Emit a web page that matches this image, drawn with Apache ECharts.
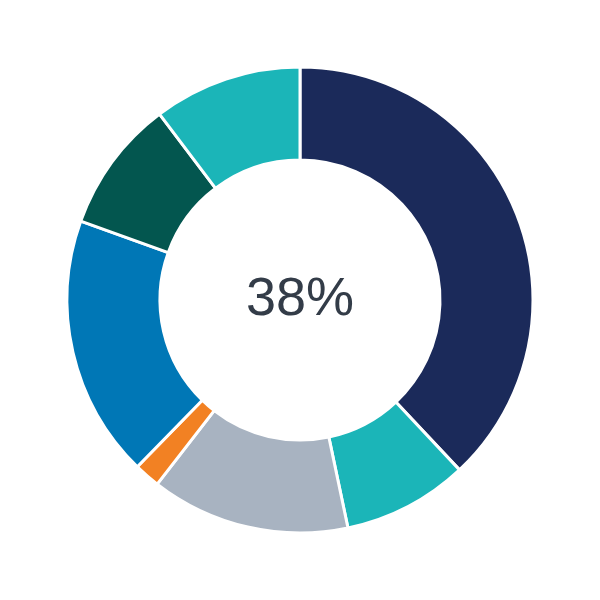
<!DOCTYPE html>
<html>
<head>
<meta charset="utf-8">
<script src="https://cdn.jsdelivr.net/npm/echarts@6/dist/echarts.min.js"></script>
<style>
  html, body { margin: 0; padding: 0; background: #fff; }
  #chart { width: 600px; height: 600px; }
</style>
</head>
<body>
<div id="chart"></div>
<script>
// slice values, clockwise from 12 o'clock
const sliceNames = ['A', 'B', 'C', 'D', 'E', 'F', 'G'];
const sliceValues = [38, 8.7, 13.8, 1.8, 18.2, 9.2, 10.3];
const sliceColors = ['#1b2a5a', '#1bb5b8', '#a8b3c1', '#f28123', '#0077b6', '#03564f', '#1bb5b8'];
const centerLabel = '38%';

const chart = echarts.init(document.getElementById('chart'));

chart.setOption({
  backgroundColor: '#fff',
  animation: false,
  graphic: [{
    type: 'text',
    left: 'center',
    top: 'middle',
    style: {
      text: centerLabel,
      font: '54px "Liberation Sans", Arial, sans-serif',
      fill: '#333c48',
      textAlign: 'center'
    }
  }],
  series: [{
    type: 'pie',
    center: [300, 300],
    radius: [140, 233],
    startAngle: 90,
    clockwise: true,
    label: { show: false },
    labelLine: { show: false },
    emphasis: { disabled: true },
    itemStyle: { borderColor: '#fff', borderWidth: 3 },
    data: sliceValues.map((v, i) => ({
      name: sliceNames[i],
      value: v,
      itemStyle: { color: sliceColors[i] }
    }))
  }]
});
</script>
</body>
</html>
